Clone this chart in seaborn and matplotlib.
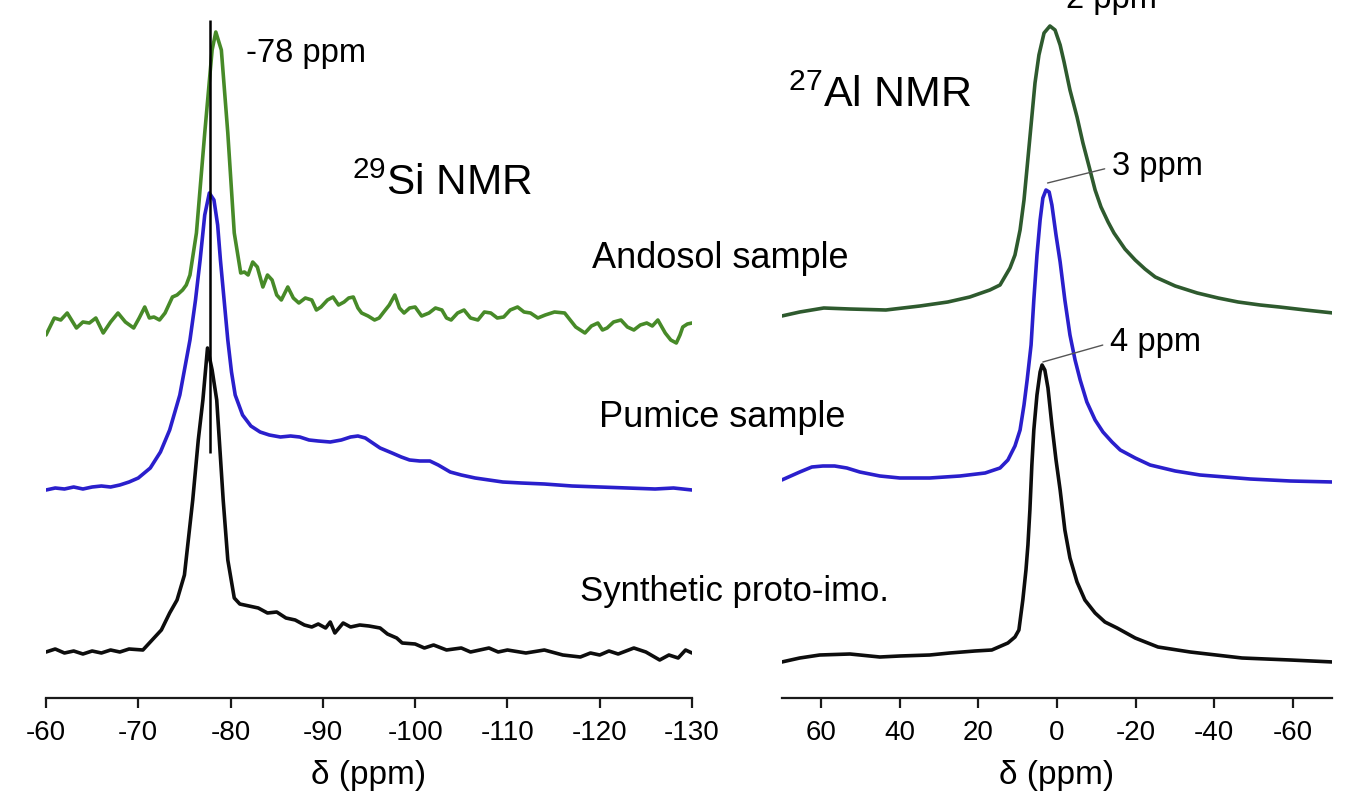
import numpy as np
import pandas as pd
import seaborn as sns
import matplotlib.pyplot as plt

sns.set_theme(style="white")
plt.rcParams['font.family'] = ['Liberation Sans', 'DejaVu Sans']
plt.rcParams['mathtext.fontset'] = 'custom'
plt.rcParams['mathtext.rm'] = 'Liberation Sans'
plt.rcParams['mathtext.it'] = 'Liberation Sans:italic'
plt.rcParams['text.color'] = 'black'
plt.rcParams['axes.labelcolor'] = 'black'
plt.rcParams['xtick.color'] = 'black'

# intensities are heights above the baseline axis (arbitrary units, stacked)

# 29Si NMR, Andosol sample
si_andosol_ppm = [-60.0, -60.9, -61.6, -62.3, -63.3, -64.0, -64.7, -65.4, -66.2, -67.0, -67.8, -68.6,
                  -69.5, -70.1, -70.7, -71.2, -71.7, -72.3, -72.9, -73.7, -74.2, -74.8, -75.2, -75.6,
                  -76.3, -77.2, -78.0, -78.4, -79.0, -79.7, -80.4, -81.1, -81.5, -81.9, -82.4, -82.9,
                  -83.5, -84.0, -84.5, -85.0, -85.5, -86.2, -86.8, -87.4, -88.1, -88.8, -89.3, -89.8,
                  -90.5, -91.1, -91.7, -92.3, -92.8, -93.3, -93.8, -94.2, -94.9, -95.6, -96.1, -96.6,
                  -97.2, -97.8, -98.3, -98.8, -99.4, -100.0, -100.7, -101.5, -102.2, -102.9, -103.4,
                  -103.9, -104.6, -105.3, -106.0, -106.8, -107.5, -108.2, -108.9, -109.6, -110.3,
                  -111.1, -111.8, -112.5, -113.3, -114.1, -115.1, -116.2, -116.8, -117.4, -118.4,
                  -119.1, -119.8, -120.3, -120.8, -121.5, -122.3, -123.0, -123.7, -124.4, -125.1,
                  -125.7, -126.3, -127.1, -127.7, -128.3, -128.7, -129.0, -129.5, -130.0]
si_andosol_y = [363, 380, 378, 385, 370, 376, 375, 380, 365, 376, 385, 376,
                370, 380, 391, 380, 381, 378, 385, 401, 403, 408, 413, 423,
                465, 565, 648, 666, 648, 565, 465, 425, 426, 423, 436, 431,
                411, 423, 418, 403, 398, 411, 400, 395, 400, 398, 388, 391,
                398, 401, 393, 396, 400, 401, 390, 385, 382, 378, 380, 386,
                393, 403, 390, 385, 390, 391, 382, 385, 390, 388, 380,
                378, 385, 388, 380, 378, 386, 385, 380, 381, 388,
                391, 386, 385, 380, 383, 386, 385, 378, 371, 365,
                372, 375, 368, 370, 376, 378, 371, 368, 373, 375,
                372, 378, 365, 358, 355, 363, 371, 374, 375]

# 29Si NMR, Pumice sample
si_pumice_ppm = [-60.0, -61.0, -62.0, -63.0, -64.0, -65.0, -66.0, -67.0, -68.0, -69.0, -70.0, -71.3,
                 -72.4, -73.4, -74.5, -75.6, -76.2, -76.7, -77.2, -77.7, -78.2, -78.6, -78.9, -79.3,
                 -79.7, -80.1, -80.5, -81.3, -82.2, -83.2, -84.2, -85.4, -86.5, -87.5, -88.5, -89.5,
                 -90.8, -92.0, -93.0, -93.8, -94.6, -95.4, -96.2, -97.5, -98.5, -99.4, -100.5, -101.6,
                 -102.5, -103.8, -105.0, -106.5, -108.0, -109.5, -111.5, -114.0, -117.0, -120.0,
                 -123.0, -126.0, -128.0, -130.0]
si_pumice_y = [208, 210, 209, 211, 209, 211, 212, 211, 213, 216, 220, 230,
               246, 268, 303, 358, 398, 438, 483, 505, 498, 473, 438, 398,
               358, 326, 303, 283, 272, 266, 263, 261, 262, 261, 258, 257,
               256, 258, 261, 262, 260, 255, 250, 245, 241, 238, 237, 237,
               233, 226, 223, 220, 218, 216, 215, 214, 212, 211,
               210, 209, 210, 208]

# 29Si NMR, synthetic proto-imogolite
si_synth_ppm = [-60.0, -61.0, -62.0, -63.0, -64.0, -65.0, -66.0, -67.0, -68.0, -69.0, -70.5, -71.5,
                -72.5, -73.4, -74.2, -75.0, -75.9, -76.5, -77.0, -77.5, -78.0, -78.5, -79.2, -79.7,
                -80.4, -81.0, -82.0, -83.0, -84.0, -85.0, -86.0, -87.0, -88.0, -88.8, -89.5, -90.3,
                -90.8, -91.3, -92.2, -93.0, -94.0, -95.0, -96.2, -97.0, -98.0, -98.6, -100.0, -101.0,
                -102.0, -103.4, -105.0, -106.0, -108.0, -109.0, -110.0, -112.0, -114.0, -116.0,
                -117.9, -119.0, -120.0, -121.0, -122.0, -123.7, -125.0, -126.5, -127.5, -128.5,
                -129.3, -130.0]
si_synth_y = [46, 49, 45, 47, 44, 47, 45, 48, 46, 49, 48, 58,
              68, 85, 98, 123, 198, 258, 298, 350, 328, 298, 198, 138,
              100, 94, 92, 90, 85, 86, 80, 78, 73, 71, 74, 70,
              76, 65, 75, 71, 73, 72, 70, 64, 60, 55, 54, 50,
              53, 48, 50, 46, 50, 46, 48, 45, 48, 43,
              41, 45, 43, 47, 44, 50, 46, 38, 43, 40,
              48, 45]

# 27Al NMR, Andosol sample
al_andosol_ppm = [70.06, 65.48, 59.36, 52.74, 43.57, 34.9, 27.8, 22.2, 17.1, 14.5, 11.97, 10.7,
                  9.4, 8.4, 7.6, 6.6, 5.6, 4.6, 3.3, 1.8, 0.5, -0.8, -1.8, -3.3, -5.1, -6.6,
                  -8.2, -9.7, -11.2, -13.0, -14.5, -17.3, -19.9, -22.4, -25.0, -30.1, -35.7,
                  -41.0, -46.1, -51.7, -56.6, -63.2, -70.3]
al_andosol_y = [382, 386, 390, 389, 388, 392, 396, 401, 408, 413, 430, 443,
                468, 498, 531, 573, 615, 643, 665, 672, 668, 653, 636, 608, 581, 555,
                531, 508, 491, 476, 465, 449, 438, 429, 421, 412, 405,
                400, 396, 393, 391, 388, 385]

# 27Al NMR, Pumice sample
al_pumice_ppm = [70.06, 65.48, 62.4, 59.6, 56.6, 53.5, 50.2, 45.1, 40.0, 32.4, 24.7, 18.3, 14.5,
                 12.5, 10.7, 9.4, 8.4, 7.6, 6.6, 5.9, 5.1, 4.3, 3.6, 2.8, 2.0, 1.3, 0.25, -0.8,
                 -2.0, -3.3, -4.6, -5.9, -7.6, -9.7, -11.7, -14.0, -16.1, -19.9, -23.7, -30.1,
                 -36.4, -49.2, -59.4, -70.3]
al_pumice_y = [218, 226, 231, 232, 232, 230, 226, 222, 220, 220, 222, 225, 230,
               238, 252, 268, 293, 318, 353, 398, 443, 478, 500, 508, 506, 493, 463, 436,
               398, 363, 338, 318, 296, 278, 266, 256, 248, 240, 233, 227,
               223, 219, 217, 216]

# 27Al NMR, synthetic proto-imogolite
al_synth_ppm = [70.06, 65.48, 60.4, 52.7, 45.1, 40.0, 32.4, 27.3, 20.9, 16.6, 12.5, 10.7, 9.7,
                8.7, 7.9, 7.4, 6.9, 6.4, 5.9, 5.1, 4.3, 3.8, 3.1, 2.3, 1.3, 0.25, -0.8, -2.0,
                -3.3, -5.1, -7.1, -9.7, -12.2, -15.3, -19.9, -25.7, -33.9, -47.1, -59.4, -70.3]
al_synth_y = [36, 40, 43, 44, 41, 42, 43, 45, 47, 48, 55, 61, 68,
              98, 128, 153, 188, 233, 268, 303, 326, 333, 328, 310, 273, 238, 208, 168,
              140, 116, 98, 85, 76, 70, 60, 51, 46, 40, 38, 36]

si_ref_ppm = -77.8
si_ref_span = (245, 678)

si_ticks = [-60, -70, -80, -90, -100, -110, -120, -130]
al_ticks = [60, 40, 20, 0, -20, -40, -60]

si_traces = [(si_andosol_ppm, si_andosol_y, "#478a28"),
             (si_pumice_ppm, si_pumice_y, "#2a1fcc"),
             (si_synth_ppm, si_synth_y, "#0d0d0d")]
al_traces = [(al_andosol_ppm, al_andosol_y, "#2e5a2e"),
             (al_pumice_ppm, al_pumice_y, "#2a1fcc"),
             (al_synth_ppm, al_synth_y, "#0d0d0d")]

W, H = 1349, 811
fig = plt.figure(figsize=(W / 100, H / 100), dpi=100)
ax_si = fig.add_axes([46 / W, 1 - 698 / H, 646 / W, 698 / H])
ax_al = fig.add_axes([782 / W, 1 - 698 / H, 550 / W, 698 / H])

for ppm, y, c in si_traces:
    df = pd.DataFrame({"ppm": ppm, "y": y})
    sns.lineplot(data=df, x="ppm", y="y", ax=ax_si, color=c, lw=2.6, sort=False, estimator=None)
ax_si.vlines(si_ref_ppm, si_ref_span[0], si_ref_span[1], color="black", lw=1.8)

for ppm, y, c in al_traces:
    df = pd.DataFrame({"ppm": ppm, "y": y})
    sns.lineplot(data=df, x="ppm", y="y", ax=ax_al, color=c, lw=2.6, sort=False, estimator=None)

for ax, lim, ticks in [(ax_si, (-60, -130), si_ticks), (ax_al, (70, -70), al_ticks)]:
    ax.set_xlim(*lim)
    ax.set_ylim(0, 698)
    ax.set_xticks(ticks)
    ax.set_xticklabels([str(t) for t in ticks])
    ax.set_yticks([])
    ax.set_ylabel("")
    ax.set_xlabel("δ (ppm)", fontsize=24, labelpad=10)
    ax.patch.set_alpha(0)
    for s in ["left", "right", "top"]:
        ax.spines[s].set_visible(False)
    ax.spines["bottom"].set_linewidth(1.6)
    ax.spines["bottom"].set_color("#1a1a1a")
    ax.tick_params(axis="x", direction="out", length=7, width=1.6, color="#1a1a1a",
                   labelsize=20, pad=9, bottom=True)


def px(x, y):
    return x / W, 1 - y / H


fig.text(*px(246, 62), "-78 ppm", fontsize=23.5, va="baseline")
fig.text(*px(352, 195), "$^{29}$Si NMR", fontsize=30.5, va="baseline")
fig.text(*px(788, 107), "$^{27}$Al NMR", fontsize=31, va="baseline")
fig.text(*px(592, 268), "Andosol sample", fontsize=26, va="baseline")
fig.text(*px(599, 427), "Pumice sample", fontsize=26, va="baseline")
fig.text(*px(580, 601), "Synthetic proto-imo.", fontsize=25, va="baseline")
fig.text(*px(1066, 8), "2 ppm", fontsize=23.5, va="baseline")

ax_al.annotate("3 ppm", xy=(2.4, 515), xytext=(-14.0, 531), fontsize=23.5, va="center",
               arrowprops=dict(arrowstyle="-", color="#555555", lw=1.0, relpos=(0, 0.5),
                               shrinkA=3, shrinkB=0))
ax_al.annotate("4 ppm", xy=(3.6, 336), xytext=(-13.5, 355), fontsize=23.5, va="center",
               arrowprops=dict(arrowstyle="-", color="#555555", lw=1.0, relpos=(0, 0.5),
                               shrinkA=3, shrinkB=0))

fig.savefig("out.png", dpi=100)
